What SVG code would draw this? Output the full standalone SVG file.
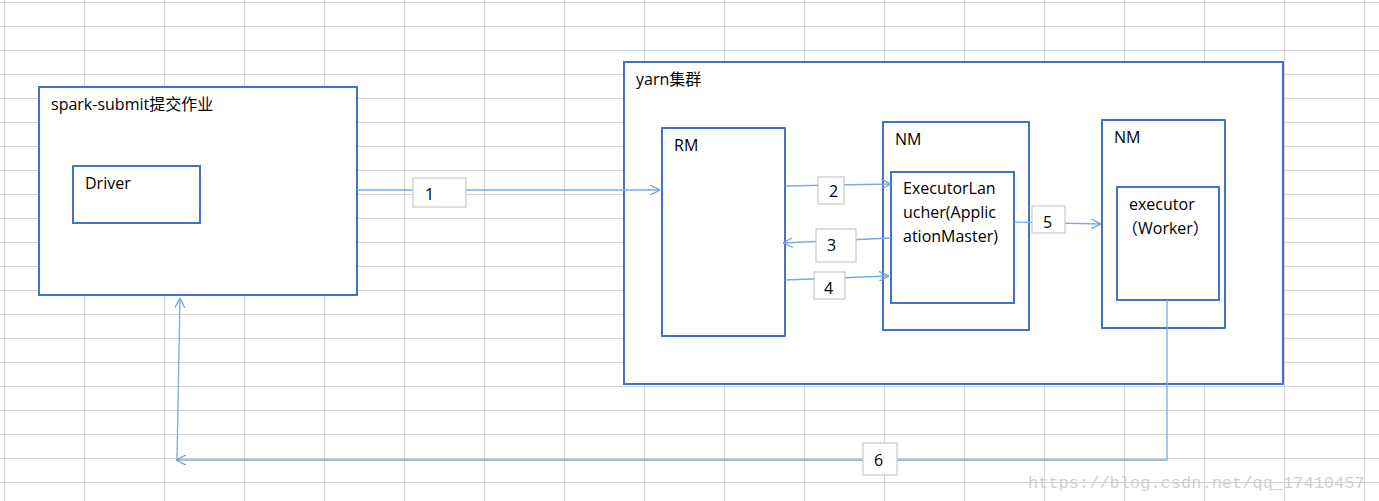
<svg xmlns="http://www.w3.org/2000/svg" width="1379" height="501" viewBox="0 0 1379 501">
<defs>
<pattern id="grid" x="4" y="2" width="80" height="24" patternUnits="userSpaceOnUse">
<path d="M0 0V24M0 0H80" fill="none" stroke="#c6c6c6" stroke-width="1.5"/>
</pattern>
<marker id="ar" viewBox="0 0 10 10" refX="10" refY="5" markerWidth="10" markerHeight="10" markerUnits="userSpaceOnUse" orient="auto">
<path d="M0 0L10 5L0 10" fill="none" stroke="#6fa0dc" stroke-width="1.2"/>
</marker>
<style>
.box{fill:#fff;stroke:#4472c4;stroke-width:2}
.lbl{fill:#fff;stroke:#bdbdbd;stroke-width:1}
.c{fill:none;stroke:#7aaae0;stroke-width:1.3}
text{font-family:"Open Sans","Noto Sans CJK SC",sans-serif;font-size:16px;fill:#000}
</style>
</defs>
<rect width="1379" height="501" fill="#fff"/>
<rect width="1379" height="501" fill="url(#grid)"/>
<g id="spark"><rect class="box" x="39" y="87" width="318" height="208"/><text x="51" y="110">spark-submit提交作业</text></g>
<g id="driver"><rect class="box" x="73" y="166" width="127" height="57"/><text x="85" y="189">Driver</text></g>
<g id="yarn"><rect class="box" x="624" y="62" width="659" height="322"/><text x="636" y="85">yarn集群</text></g>
<g id="rm"><rect class="box" x="662" y="128" width="123" height="208"/><text x="674" y="151">RM</text></g>
<g id="nm1"><rect class="box" x="883" y="122" width="146" height="208"/><text x="895" y="145">NM</text></g>
<g id="am"><rect class="box" x="891" y="172" width="123" height="131"/><text x="903" y="194">ExecutorLan</text><text x="903" y="218">ucher(Applic</text><text x="903" y="242">ationMaster)</text></g>
<g id="nm2"><rect class="box" x="1102" y="120" width="123" height="208"/><text x="1114" y="143">NM</text></g>
<g id="executor"><rect class="box" x="1117" y="187" width="102" height="113"/><text x="1129" y="210">executor</text><text x="1122" y="234">（Worker）</text></g>
<g id="connectors">
<path class="c" d="M357 190H660" marker-end="url(#ar)"/>
<path class="c" d="M785 186L891 184" marker-end="url(#ar)"/>
<path class="c" d="M891 238L783 243" marker-end="url(#ar)"/>
<path class="c" d="M785 280L889 276" marker-end="url(#ar)"/>
<path class="c" d="M1014 222L1101 224" marker-end="url(#ar)"/>
<path class="c" d="M1167 300V460H176" marker-end="url(#ar)"/>
<path class="c" d="M177 460L180 298" marker-end="url(#ar)"/>
</g>
<g id="labels">
<rect class="lbl" x="413" y="178" width="53" height="29"/><text x="425" y="200">1</text>
<rect class="lbl" x="818" y="177" width="26" height="27"/><text x="829" y="197">2</text>
<rect class="lbl" x="816" y="229" width="40" height="33"/><text x="827" y="251">3</text>
<rect class="lbl" x="814" y="272" width="31" height="27"/><text x="824" y="294">4</text>
<rect class="lbl" x="1032" y="206" width="33" height="27"/><text x="1043" y="228">5</text>
<rect class="lbl" x="863" y="443" width="34" height="32"/><text x="874" y="466">6</text>
</g>
<text x="1028" y="488" style="font-family:'Liberation Mono',monospace;font-size:17px;fill:#d0d0d0">https://blog.csdn.net/qq_17410457</text>
</svg>
